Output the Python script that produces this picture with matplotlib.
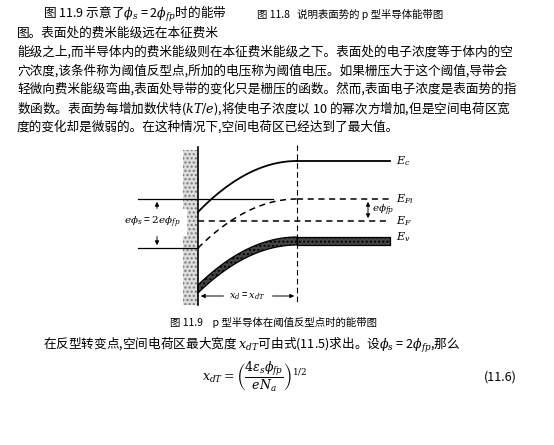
import matplotlib
matplotlib.use("Agg")
import matplotlib.pyplot as plt
import numpy as np
from matplotlib.patches import Rectangle

plt.rcParams['font.family'] = ['Noto Sans CJK SC', 'DejaVu Sans']
plt.rcParams['mathtext.fontset'] = 'dejavuserif'

# text content
top_left = r"图 11.9 示意了$\phi_s$ = 2$\phi_{fp}$时的能带"
top_right = "图 11.8   说明表面势的 p 型半导体能带图"
body = ["图。表面处的费米能级远在本征费米",
        "能级之上,而半导体内的费米能级则在本征费米能级之下。表面处的电子浓度等于体内的空",
        "穴浓度,该条件称为阈值反型点,所加的电压称为阈值电压。如果栅压大于这个阈值,导带会",
        "轻微向费米能级弯曲,表面处导带的变化只是栅压的函数。然而,表面电子浓度是表面势的指",
        r"数函数。表面势每增加数伏特($kT/e$),将使电子浓度以 10 的幂次方增加,但是空间电荷区宽",
        "度的变化却是微弱的。在这种情况下,空间电荷区已经达到了最大值。"]
caption = "图 11.9    p 型半导体在阈值反型点时的能带图"
bottom = r"在反型转变点,空间电荷区最大宽度 $x_{dT}$可由式(11.5)求出。设$\phi_s$ = 2$\phi_{fp}$,那么"
equation = r"$x_{dT}=\left(\dfrac{4\epsilon_s\phi_{fp}}{eN_a}\right)^{1/2}$"
eq_no = "(11.6)"

# band levels (pixel units of the page): surface value, bulk value
band_labels = [r"$E_c$", r"$E_{Fi}$", r"$E_F$", r"$E_v$"]
band_surface = [212, 248, 221, 285]
band_bulk = [161, 199, 221, 237]

fig = plt.figure(figsize=(5.54, 4.45), dpi=100)
ax = fig.add_axes([0, 0, 1, 1])
ax.set_xlim(0, 554); ax.set_ylim(445, 0); ax.axis('off')

fs = 9.1
ax.text(43, 14, top_left, fontsize=fs, va='center')
ax.text(257, 14, top_right, fontsize=7.5, va='center')
ys = [33, 52, 71, 89, 108, 127]
for y, t in zip(ys, body):
    ax.text(17, y, t, fontsize=fs, va='center')

x0, xd, xe = 198, 297, 390
xs = np.linspace(0, 1, 60)
xx = x0 + (xd - x0) * xs
def bend(s, b):
    return b + (s - b) * (1 - xs) ** 2

# surface stipple
ax.add_patch(Rectangle((183, 150), 15, 155, facecolor='#dddddd', edgecolor='#777777',
                       hatch='....', linewidth=0))
ax.plot([x0, x0], [147, 305], color='black', lw=1.2)
ax.plot([xd, xd], [145, 305], color='black', lw=0.8, ls=(0, (5, 3)))

# Ec
ax.plot(xx, bend(band_surface[0], band_bulk[0]), color='black', lw=1.3)
ax.plot([xd, xe], [band_bulk[0]] * 2, color='black', lw=1.3)
# EFi
ax.plot(xx, bend(band_surface[1], band_bulk[1]), color='black', lw=1.1, ls=(0, (4, 3)))
ax.plot([xd, xe], [band_bulk[1]] * 2, color='black', lw=1.1, ls=(0, (4, 3)))
# EF
ax.plot([x0, xe], [band_surface[2]] * 2, color='black', lw=1.1, ls=(0, (4, 3)))
# Ev thick band
ev = bend(band_surface[3], band_bulk[3])
ax.fill_between(xx, ev, ev + 8, facecolor='#444444', edgecolor='black', lw=0.9, hatch='....')
ax.fill_between([xd, xe], [band_bulk[3]] * 2, [band_bulk[3] + 8] * 2,
                facecolor='#444444', edgecolor='black', lw=0.9, hatch='....')

for lab, yb in zip(band_labels, band_bulk):
    ax.text(396, yb, lab, fontsize=8, va='center')

# surface potential marker
ax.plot([138, 273], [band_bulk[1]] * 2, color='black', lw=0.9)
ax.plot([138, x0], [band_surface[1]] * 2, color='black', lw=0.9)
ax.annotate('', xy=(157, band_surface[1]), xytext=(157, band_bulk[1]),
            arrowprops=dict(arrowstyle='<|-|>', color='black', lw=0.7, mutation_scale=6))
ax.text(152, 222, r"$e\phi_s$ = $2e\phi_{fp}$", fontsize=7.5, ha='center', va='center',
        backgroundcolor='white')
# e phi_fp marker
ax.annotate('', xy=(368, band_surface[2]), xytext=(368, band_bulk[1]),
            arrowprops=dict(arrowstyle='<|-|>', color='black', lw=0.7, mutation_scale=6))
ax.text(372, 210, r"$e\phi_{fp}$", fontsize=7.5, va='center')
# xd arrow
ax.annotate('', xy=(xd, 296), xytext=(x0, 296),
            arrowprops=dict(arrowstyle='<|-|>', color='black', lw=0.7, mutation_scale=6))
ax.text((x0 + xd) / 2, 296, r"$x_d$ = $x_{dT}$", fontsize=7, ha='center', va='center',
        backgroundcolor='white')

ax.text(273, 322, caption, fontsize=7.5, ha='center', va='center')
ax.text(43, 345, bottom, fontsize=fs, va='center')
ax.text(255, 377, equation, fontsize=9, ha='center', va='center')
ax.text(500, 377, eq_no, fontsize=9, ha='center', va='center')

fig.savefig("out.png", dpi=100)
